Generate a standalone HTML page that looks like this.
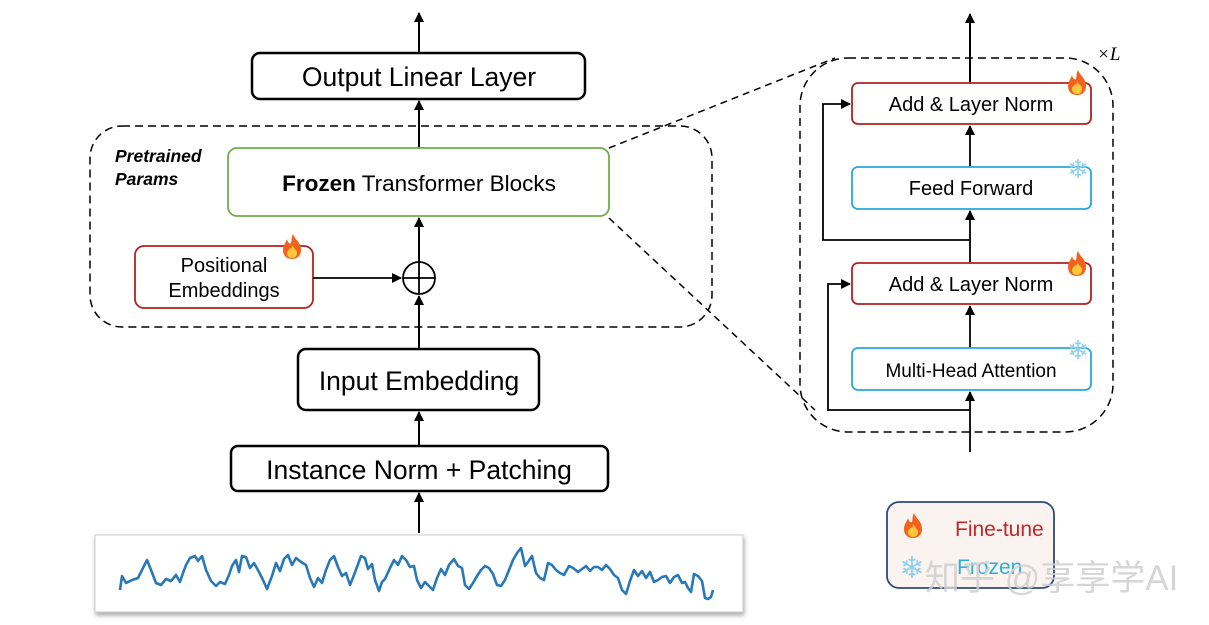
<!DOCTYPE html>
<html><head><meta charset="utf-8"><style>
html,body{margin:0;padding:0;background:#fff;}
svg{display:block;}
text{font-family:"Liberation Sans","Noto Sans CJK SC",sans-serif;}
</style></head><body>
<svg width="1209" height="625" viewBox="0 0 1209 625" xmlns="http://www.w3.org/2000/svg">
<defs>
<marker id="ah" markerWidth="10" markerHeight="10" refX="9" refY="5" orient="auto" markerUnits="userSpaceOnUse">
<path d="M0,0 L10,5 L0,10 z" fill="#000"/></marker>
<g id="fire">
<path d="M10,0 C12,6 18,8 18,16 C18,22 14,25 9,25 C4,25 0,22 0,16 C0,11 3,9 4,5 C5,9 7,10 8,9 C9,6 8,3 10,0 z" fill="#f0621e"/>
<path d="M9,11 C11,15 14,16 14,19 C14,22 12,24 9,24 C6,24 4,22 4,19 C4,17 6,16 7,14 C8,16 9,14 9,11 z" fill="#ffc83a"/>
</g>
<filter id="sh" x="-5%" y="-20%" width="110%" height="150%"><feDropShadow dx="1" dy="3" stdDeviation="2" flood-color="#888" flood-opacity="0.7"/></filter>
</defs>

<!-- left column -->
<line x1="419" y1="53" x2="419" y2="13" stroke="#000" stroke-width="2" marker-end="url(#ah)"/>
<rect x="252" y="53" width="333" height="46" rx="8" fill="#fff" stroke="#000" stroke-width="2.5"/>
<text x="419" y="86" font-size="26.5" text-anchor="middle">Output Linear Layer</text>
<line x1="419" y1="148" x2="419" y2="101" stroke="#000" stroke-width="2" marker-end="url(#ah)"/>

<rect x="90" y="126" width="622" height="201" rx="32" fill="none" stroke="#000" stroke-width="1.5" stroke-dasharray="8,5"/>
<text x="115" y="162" font-size="17.5" font-weight="bold" font-style="italic">Pretrained</text>
<text x="115" y="185" font-size="17.5" font-weight="bold" font-style="italic">Params</text>

<rect x="228" y="148" width="381" height="68" rx="9" fill="#fff" stroke="#70ad47" stroke-width="1.8"/>
<text x="419" y="191" font-size="22.5" text-anchor="middle"><tspan font-weight="bold">Frozen</tspan> Transformer Blocks</text>
<line x1="419" y1="262" x2="419" y2="218" stroke="#000" stroke-width="2" marker-end="url(#ah)"/>
<circle cx="419" cy="278" r="16" fill="#fff" stroke="#000" stroke-width="1.8"/>
<line x1="403" y1="278" x2="435" y2="278" stroke="#000" stroke-width="1.8"/>
<line x1="419" y1="262" x2="419" y2="294" stroke="#000" stroke-width="1.8"/>

<rect x="135" y="246" width="178" height="62" rx="9" fill="#fff" stroke="#b22222" stroke-width="1.8"/>
<text x="224" y="272" font-size="20" text-anchor="middle">Positional</text>
<text x="224" y="297" font-size="20" text-anchor="middle">Embeddings</text>
<use href="#fire" x="283" y="234"/>
<line x1="313" y1="278" x2="401" y2="278" stroke="#000" stroke-width="1.8" marker-end="url(#ah)"/>
<line x1="419" y1="349" x2="419" y2="296" stroke="#000" stroke-width="2" marker-end="url(#ah)"/>

<rect x="298" y="349" width="241" height="61" rx="8" fill="#fff" stroke="#000" stroke-width="2.5"/>
<text x="419" y="390" font-size="26.5" text-anchor="middle">Input Embedding</text>
<line x1="419" y1="446" x2="419" y2="412" stroke="#000" stroke-width="2" marker-end="url(#ah)"/>

<rect x="231" y="446" width="377" height="45" rx="7" fill="#fff" stroke="#000" stroke-width="2.5"/>
<text x="419" y="479" font-size="26.5" text-anchor="middle">Instance Norm + Patching</text>
<line x1="419" y1="533" x2="419" y2="493" stroke="#000" stroke-width="2" marker-end="url(#ah)"/>

<rect x="95" y="535" width="648" height="77" fill="#fff" stroke="#ccc" stroke-width="1" filter="url(#sh)"/>
<polyline fill="none" stroke="#2878b8" stroke-width="2.6" stroke-linejoin="round" points="120,590 122,576 126,583 132,580 138,578 143,568 147,560 151,570 156,583 161,585 166,579 171,581 176,575 180,582 183,573 186,565 190,558 195,556 198,561 202,556 206,570 211,581 216,586 220,582 225,584 229,575 232,566 236,560 239,572 242,556 246,557 250,568 254,563 259,572 263,580 267,589 272,576 276,563 280,571 284,559 288,555 292,565 296,558 301,562 306,565 310,578 314,587 318,578 322,583 326,570 330,560 334,556 338,567 342,576 346,573 350,585 354,575 357,567 361,556 365,558 368,569 372,564 375,580 379,591 382,582 385,579 390,568 394,560 398,565 402,556 406,560 410,567 414,566 417,580 421,588 425,582 429,586 433,590 437,578 441,569 445,575 449,565 454,559 458,566 462,568 465,585 469,589 473,583 477,576 481,570 485,566 489,568 493,574 497,585 501,586 505,580 509,570 513,560 517,553 521,548 525,566 528,562 532,556 536,573 540,578 544,580 548,563 552,565 556,570 560,573 564,575 569,566 573,568 578,572 582,569 586,566 590,571 594,567 598,567 602,570 606,565 610,569 614,575 618,578 622,590 626,594 630,581 634,570 638,576 642,571 646,578 650,572 654,582 658,580 662,577 666,576 670,583 674,577 678,575 682,583 685,582 688,588 691,592 694,574 698,576 702,581 705,598 708,599 711,597 713,590"/>

<!-- zoom lines -->
<line x1="609" y1="148" x2="835" y2="58" stroke="#000" stroke-width="1.5" stroke-dasharray="7,5"/>
<line x1="609" y1="218" x2="815" y2="410" stroke="#000" stroke-width="1.5" stroke-dasharray="7,5"/>

<!-- right -->
<rect x="800" y="58" width="313" height="374" rx="48" fill="none" stroke="#000" stroke-width="1.5" stroke-dasharray="8,5"/>
<text x="1097" y="60" font-size="19" style="font-family:'Liberation Serif',serif;font-style:italic">×L</text>
<line x1="970" y1="83" x2="970" y2="14" stroke="#000" stroke-width="2" marker-end="url(#ah)"/>

<rect x="852" y="83" width="239" height="41" rx="6" fill="#fff" stroke="#b22222" stroke-width="1.8"/>
<text x="971" y="111" font-size="20" text-anchor="middle">Add &amp; Layer Norm</text>
<use href="#fire" x="1068" y="70"/>
<line x1="970" y1="167" x2="970" y2="126" stroke="#000" stroke-width="1.8" marker-end="url(#ah)"/>

<rect x="852" y="167" width="239" height="42" rx="6" fill="#fff" stroke="#29a8d8" stroke-width="1.8"/>
<text x="971" y="195" font-size="20" text-anchor="middle">Feed Forward</text>
<text x="1078" y="178" font-size="26" fill="#8fd0ee" text-anchor="middle">❄</text>
<line x1="970" y1="263" x2="970" y2="211" stroke="#000" stroke-width="1.8" marker-end="url(#ah)"/>
<polyline points="970,240 823,240 823,104 850,104" fill="none" stroke="#000" stroke-width="1.8" marker-end="url(#ah)"/>

<rect x="852" y="263" width="239" height="41" rx="6" fill="#fff" stroke="#b22222" stroke-width="1.8"/>
<text x="971" y="291" font-size="20" text-anchor="middle">Add &amp; Layer Norm</text>
<use href="#fire" x="1068" y="251"/>
<line x1="970" y1="348" x2="970" y2="306" stroke="#000" stroke-width="1.8" marker-end="url(#ah)"/>

<rect x="852" y="348" width="239" height="42" rx="6" fill="#fff" stroke="#29a8d8" stroke-width="1.8"/>
<text x="971" y="377" font-size="19" text-anchor="middle">Multi-Head Attention</text>
<text x="1078" y="359" font-size="26" fill="#8fd0ee" text-anchor="middle">❄</text>
<line x1="970" y1="452" x2="970" y2="392" stroke="#000" stroke-width="1.8" marker-end="url(#ah)"/>
<polyline points="970,410 828,410 828,284 850,284" fill="none" stroke="#000" stroke-width="1.8" marker-end="url(#ah)"/>

<!-- legend -->
<rect x="887" y="502" width="167" height="86" rx="12" fill="#fbf3ef" stroke="#2e4a7a" stroke-width="1.8"/>
<use href="#fire" x="904" y="513"/>
<text x="955" y="536" font-size="21" fill="#c0282a">Fine-tune</text>
<text x="912" y="578" font-size="30" fill="#8fd0ee" text-anchor="middle">❄</text>
<text x="957" y="574" font-size="21" fill="#29b0d8">Frozen</text>
<text x="925" y="590" font-size="35" fill="#cfcfcf" fill-opacity="0.85">知乎 @享享学AI</text>
</svg>
</body></html>
